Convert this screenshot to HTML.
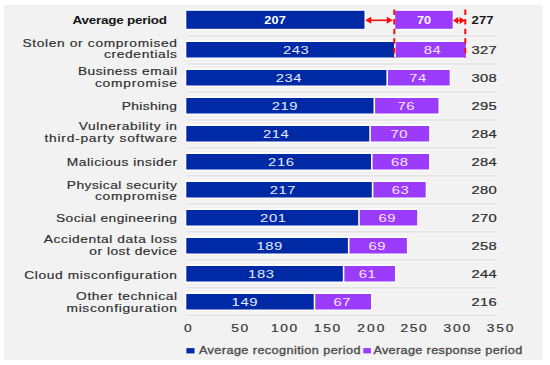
<!DOCTYPE html><html><head><meta charset="utf-8"><style>html,body{margin:0;padding:0;background:#fff;overflow:hidden}svg{display:block}text{font-family:"Liberation Sans",sans-serif}</style></head><body>
<svg width="550" height="365" viewBox="0 0 550 365">
<rect x="0" y="0" width="550" height="365" fill="#ffffff"/>
<rect x="4" y="5" width="539" height="355" fill="#f2f2f2"/>
<rect x="188" y="34.4" width="308" height="3.2" fill="#f8f8f8"/>
<rect x="188" y="35.4" width="308" height="1.2" fill="#dcdcdc"/>
<rect x="188" y="62.4" width="308" height="3.2" fill="#f8f8f8"/>
<rect x="188" y="63.4" width="308" height="1.2" fill="#dcdcdc"/>
<rect x="188" y="90.4" width="308" height="3.2" fill="#f8f8f8"/>
<rect x="188" y="91.4" width="308" height="1.2" fill="#dcdcdc"/>
<rect x="188" y="118.4" width="308" height="3.2" fill="#f8f8f8"/>
<rect x="188" y="119.4" width="308" height="1.2" fill="#dcdcdc"/>
<rect x="188" y="146.3" width="308" height="3.2" fill="#f8f8f8"/>
<rect x="188" y="147.3" width="308" height="1.2" fill="#dcdcdc"/>
<rect x="188" y="174.3" width="308" height="3.2" fill="#f8f8f8"/>
<rect x="188" y="175.3" width="308" height="1.2" fill="#dcdcdc"/>
<rect x="188" y="202.3" width="308" height="3.2" fill="#f8f8f8"/>
<rect x="188" y="203.3" width="308" height="1.2" fill="#dcdcdc"/>
<rect x="188" y="230.3" width="308" height="3.2" fill="#f8f8f8"/>
<rect x="188" y="231.3" width="308" height="1.2" fill="#dcdcdc"/>
<rect x="188" y="258.3" width="308" height="3.2" fill="#f8f8f8"/>
<rect x="188" y="259.3" width="308" height="1.2" fill="#dcdcdc"/>
<rect x="188" y="286.3" width="308" height="3.2" fill="#f8f8f8"/>
<rect x="188" y="287.3" width="308" height="1.2" fill="#dcdcdc"/>
<rect x="188" y="313.8" width="308" height="3.2" fill="#f8f8f8"/>
<rect x="188" y="314.8" width="308" height="1.2" fill="#dcdcdc"/>
<rect x="184.8" y="9.2" width="181.2" height="21.2" fill="#ffffff"/>
<rect x="186.3" y="10.8" width="178.2" height="18.0" fill="#0029a6"/>
<rect x="393.7" y="9.2" width="60.5" height="21.2" fill="#ffffff"/>
<rect x="395.2" y="10.8" width="57.5" height="18.0" fill="#9b3cfc"/>
<rect x="184.8" y="40.4" width="282.6" height="18.7" fill="#ffffff"/>
<rect x="186.3" y="42.0" width="279.6" height="15.5" fill="#ffffff"/>
<rect x="186.3" y="42.0" width="207.8" height="15.5" fill="#0029a6"/>
<rect x="395.7" y="42.0" width="70.2" height="15.5" fill="#9b3cfc"/>
<rect x="184.8" y="68.4" width="266.3" height="18.7" fill="#ffffff"/>
<rect x="186.3" y="70.0" width="263.3" height="15.5" fill="#ffffff"/>
<rect x="186.3" y="70.0" width="200.1" height="15.5" fill="#0029a6"/>
<rect x="388.0" y="70.0" width="61.7" height="15.5" fill="#9b3cfc"/>
<rect x="184.8" y="96.4" width="255.2" height="18.7" fill="#ffffff"/>
<rect x="186.3" y="98.0" width="252.2" height="15.5" fill="#ffffff"/>
<rect x="186.3" y="98.0" width="187.2" height="15.5" fill="#0029a6"/>
<rect x="375.1" y="98.0" width="63.4" height="15.5" fill="#9b3cfc"/>
<rect x="184.8" y="124.4" width="245.8" height="18.7" fill="#ffffff"/>
<rect x="186.3" y="126.0" width="242.8" height="15.5" fill="#ffffff"/>
<rect x="186.3" y="126.0" width="183.0" height="15.5" fill="#0029a6"/>
<rect x="370.9" y="126.0" width="58.3" height="15.5" fill="#9b3cfc"/>
<rect x="184.8" y="152.4" width="245.8" height="18.7" fill="#ffffff"/>
<rect x="186.3" y="154.0" width="242.8" height="15.5" fill="#ffffff"/>
<rect x="186.3" y="154.0" width="184.7" height="15.5" fill="#0029a6"/>
<rect x="372.6" y="154.0" width="56.5" height="15.5" fill="#9b3cfc"/>
<rect x="184.8" y="180.4" width="242.4" height="18.7" fill="#ffffff"/>
<rect x="186.3" y="182.0" width="239.4" height="15.5" fill="#ffffff"/>
<rect x="186.3" y="182.0" width="185.5" height="15.5" fill="#0029a6"/>
<rect x="373.4" y="182.0" width="52.3" height="15.5" fill="#9b3cfc"/>
<rect x="184.8" y="208.4" width="233.8" height="18.7" fill="#ffffff"/>
<rect x="186.3" y="210.0" width="230.8" height="15.5" fill="#ffffff"/>
<rect x="186.3" y="210.0" width="171.9" height="15.5" fill="#0029a6"/>
<rect x="359.8" y="210.0" width="57.4" height="15.5" fill="#9b3cfc"/>
<rect x="184.8" y="236.4" width="223.6" height="18.7" fill="#ffffff"/>
<rect x="186.3" y="238.0" width="220.6" height="15.5" fill="#ffffff"/>
<rect x="186.3" y="238.0" width="161.6" height="15.5" fill="#0029a6"/>
<rect x="349.5" y="238.0" width="57.4" height="15.5" fill="#9b3cfc"/>
<rect x="184.8" y="264.4" width="211.6" height="18.7" fill="#ffffff"/>
<rect x="186.3" y="266.0" width="208.6" height="15.5" fill="#ffffff"/>
<rect x="186.3" y="266.0" width="156.5" height="15.5" fill="#0029a6"/>
<rect x="344.4" y="266.0" width="50.6" height="15.5" fill="#9b3cfc"/>
<rect x="184.8" y="292.4" width="187.7" height="18.7" fill="#ffffff"/>
<rect x="186.3" y="294.0" width="184.7" height="15.5" fill="#ffffff"/>
<rect x="186.3" y="294.0" width="127.4" height="15.5" fill="#0029a6"/>
<rect x="315.3" y="294.0" width="55.7" height="15.5" fill="#9b3cfc"/>
<line x1="394.3" y1="9.5" x2="394.3" y2="58" stroke="#fa0a0a" stroke-width="2" stroke-dasharray="5.5 4.1"/>
<line x1="465.3" y1="9.5" x2="465.3" y2="58" stroke="#fa0a0a" stroke-width="2" stroke-dasharray="5.5 4.1"/>
<line x1="369" y1="20.3" x2="388.5" y2="20.3" stroke="#fa0a0a" stroke-width="1.6"/>
<path d="M365.2 20.3 L371.2 16.8 L371.2 23.8 Z" fill="#fa0a0a"/>
<path d="M392.8 20.3 L386.8 16.8 L386.8 23.8 Z" fill="#fa0a0a"/>
<line x1="456" y1="20.4" x2="462" y2="20.4" stroke="#fa0a0a" stroke-width="1.6"/>
<path d="M452.9 20.4 L458.2 16.9 L458.2 23.9 Z" fill="#fa0a0a"/>
<path d="M465.0 20.4 L459.7 16.9 L459.7 23.9 Z" fill="#fa0a0a"/>
<text transform="translate(72.40,23.80) scale(1.15,1)" font-size="11.7" font-weight="bold" fill="#161616" textLength="82.17" lengthAdjust="spacing">Average period</text>
<text transform="translate(22.40,46.50) scale(1.35,1)" font-size="10.2" fill="#2e2e2e" stroke="#2e2e2e" stroke-width="0.15" textLength="114.52" lengthAdjust="spacing">Stolen or compromised</text>
<text transform="translate(104.00,57.70) scale(1.35,1)" font-size="10.2" fill="#2e2e2e" stroke="#2e2e2e" stroke-width="0.15" textLength="54.07" lengthAdjust="spacing">credentials</text>
<text transform="translate(77.90,75.20) scale(1.35,1)" font-size="10.2" fill="#2e2e2e" stroke="#2e2e2e" stroke-width="0.15" textLength="73.41" lengthAdjust="spacing">Business email</text>
<text transform="translate(94.90,86.80) scale(1.35,1)" font-size="10.2" fill="#2e2e2e" stroke="#2e2e2e" stroke-width="0.15" textLength="60.81" lengthAdjust="spacing">compromise</text>
<text transform="translate(121.80,109.50) scale(1.35,1)" font-size="10.2" fill="#2e2e2e" stroke="#2e2e2e" stroke-width="0.15" textLength="40.89" lengthAdjust="spacing">Phishing</text>
<text transform="translate(78.70,130.30) scale(1.35,1)" font-size="10.2" fill="#2e2e2e" stroke="#2e2e2e" stroke-width="0.15" textLength="72.81" lengthAdjust="spacing">Vulnerability in</text>
<text transform="translate(44.40,141.70) scale(1.35,1)" font-size="10.2" fill="#2e2e2e" stroke="#2e2e2e" stroke-width="0.15" textLength="98.22" lengthAdjust="spacing">third-party software</text>
<text transform="translate(66.80,165.70) scale(1.35,1)" font-size="10.2" fill="#2e2e2e" stroke="#2e2e2e" stroke-width="0.15" textLength="81.63" lengthAdjust="spacing">Malicious insider</text>
<text transform="translate(66.80,188.60) scale(1.35,1)" font-size="10.2" fill="#2e2e2e" stroke="#2e2e2e" stroke-width="0.15" textLength="81.63" lengthAdjust="spacing">Physical security</text>
<text transform="translate(94.90,199.80) scale(1.35,1)" font-size="10.2" fill="#2e2e2e" stroke="#2e2e2e" stroke-width="0.15" textLength="60.81" lengthAdjust="spacing">compromise</text>
<text transform="translate(56.00,221.70) scale(1.35,1)" font-size="10.2" fill="#2e2e2e" stroke="#2e2e2e" stroke-width="0.15" textLength="89.63" lengthAdjust="spacing">Social engineering</text>
<text transform="translate(43.80,243.10) scale(1.35,1)" font-size="10.2" fill="#2e2e2e" stroke="#2e2e2e" stroke-width="0.15" textLength="98.67" lengthAdjust="spacing">Accidental data loss</text>
<text transform="translate(89.30,254.90) scale(1.35,1)" font-size="10.2" fill="#2e2e2e" stroke="#2e2e2e" stroke-width="0.15" textLength="64.96" lengthAdjust="spacing">or lost device</text>
<text transform="translate(24.30,278.60) scale(1.35,1)" font-size="10.2" fill="#2e2e2e" stroke="#2e2e2e" stroke-width="0.15" textLength="113.11" lengthAdjust="spacing">Cloud misconfiguration</text>
<text transform="translate(76.10,299.50) scale(1.35,1)" font-size="10.2" fill="#2e2e2e" stroke="#2e2e2e" stroke-width="0.15" textLength="74.74" lengthAdjust="spacing">Other technical</text>
<text transform="translate(66.50,311.50) scale(1.35,1)" font-size="10.2" fill="#2e2e2e" stroke="#2e2e2e" stroke-width="0.15" textLength="81.85" lengthAdjust="spacing">misconfiguration</text>
<text transform="translate(264.30,23.50) scale(1.15,1)" font-size="11.0" font-weight="bold" fill="#ffffff" textLength="18.78" lengthAdjust="spacing">207</text>
<text transform="translate(416.90,23.50) scale(1.15,1)" font-size="11.0" font-weight="bold" fill="#ffffff" textLength="12.35" lengthAdjust="spacing">70</text>
<text transform="translate(471.60,23.80) scale(1.15,1)" font-size="11.4" font-weight="bold" fill="#161616" textLength="19.13" lengthAdjust="spacing">277</text>
<text transform="translate(282.90,53.50) scale(1.45,1)" font-size="10.2" fill="#e6ecff" textLength="17.79" lengthAdjust="spacing">243</text>
<text transform="translate(423.80,53.50) scale(1.45,1)" font-size="10.2" fill="#f8e8ff" textLength="11.72" lengthAdjust="spacing">84</text>
<text transform="translate(471.40,53.60) scale(1.42,1)" font-size="10.4" fill="#2e2e2e" stroke="#2e2e2e" stroke-width="0.2" textLength="17.89" lengthAdjust="spacing">327</text>
<text transform="translate(275.70,81.50) scale(1.45,1)" font-size="10.2" fill="#e6ecff" textLength="17.79" lengthAdjust="spacing">234</text>
<text transform="translate(409.20,81.50) scale(1.45,1)" font-size="10.2" fill="#f8e8ff" textLength="11.72" lengthAdjust="spacing">74</text>
<text transform="translate(471.40,81.60) scale(1.42,1)" font-size="10.4" fill="#2e2e2e" stroke="#2e2e2e" stroke-width="0.2" textLength="17.89" lengthAdjust="spacing">308</text>
<text transform="translate(271.70,109.50) scale(1.45,1)" font-size="10.2" fill="#e6ecff" textLength="17.79" lengthAdjust="spacing">219</text>
<text transform="translate(397.40,109.50) scale(1.45,1)" font-size="10.2" fill="#f8e8ff" textLength="11.72" lengthAdjust="spacing">76</text>
<text transform="translate(471.40,109.60) scale(1.42,1)" font-size="10.4" fill="#2e2e2e" stroke="#2e2e2e" stroke-width="0.2" textLength="17.89" lengthAdjust="spacing">295</text>
<text transform="translate(262.90,137.50) scale(1.45,1)" font-size="10.2" fill="#e6ecff" textLength="17.79" lengthAdjust="spacing">214</text>
<text transform="translate(390.40,137.50) scale(1.45,1)" font-size="10.2" fill="#f8e8ff" textLength="11.72" lengthAdjust="spacing">70</text>
<text transform="translate(471.40,137.60) scale(1.42,1)" font-size="10.4" fill="#2e2e2e" stroke="#2e2e2e" stroke-width="0.2" textLength="17.89" lengthAdjust="spacing">284</text>
<text transform="translate(268.10,165.50) scale(1.45,1)" font-size="10.2" fill="#e6ecff" textLength="17.79" lengthAdjust="spacing">216</text>
<text transform="translate(390.90,165.50) scale(1.45,1)" font-size="10.2" fill="#f8e8ff" textLength="11.72" lengthAdjust="spacing">68</text>
<text transform="translate(471.40,165.60) scale(1.42,1)" font-size="10.4" fill="#2e2e2e" stroke="#2e2e2e" stroke-width="0.2" textLength="17.89" lengthAdjust="spacing">284</text>
<text transform="translate(269.80,193.50) scale(1.45,1)" font-size="10.2" fill="#e6ecff" textLength="17.79" lengthAdjust="spacing">217</text>
<text transform="translate(391.70,193.50) scale(1.45,1)" font-size="10.2" fill="#f8e8ff" textLength="11.72" lengthAdjust="spacing">63</text>
<text transform="translate(471.40,193.60) scale(1.42,1)" font-size="10.4" fill="#2e2e2e" stroke="#2e2e2e" stroke-width="0.2" textLength="17.89" lengthAdjust="spacing">280</text>
<text transform="translate(260.10,221.50) scale(1.45,1)" font-size="10.2" fill="#e6ecff" textLength="17.79" lengthAdjust="spacing">201</text>
<text transform="translate(378.40,221.50) scale(1.45,1)" font-size="10.2" fill="#f8e8ff" textLength="11.72" lengthAdjust="spacing">69</text>
<text transform="translate(471.40,221.60) scale(1.42,1)" font-size="10.4" fill="#2e2e2e" stroke="#2e2e2e" stroke-width="0.2" textLength="17.89" lengthAdjust="spacing">270</text>
<text transform="translate(256.50,249.50) scale(1.45,1)" font-size="10.2" fill="#e6ecff" textLength="17.79" lengthAdjust="spacing">189</text>
<text transform="translate(368.50,249.50) scale(1.45,1)" font-size="10.2" fill="#f8e8ff" textLength="11.72" lengthAdjust="spacing">69</text>
<text transform="translate(471.40,249.60) scale(1.42,1)" font-size="10.4" fill="#2e2e2e" stroke="#2e2e2e" stroke-width="0.2" textLength="17.89" lengthAdjust="spacing">258</text>
<text transform="translate(248.10,277.50) scale(1.45,1)" font-size="10.2" fill="#e6ecff" textLength="17.79" lengthAdjust="spacing">183</text>
<text transform="translate(358.80,277.50) scale(1.45,1)" font-size="10.2" fill="#f8e8ff" textLength="11.72" lengthAdjust="spacing">61</text>
<text transform="translate(471.40,277.60) scale(1.42,1)" font-size="10.4" fill="#2e2e2e" stroke="#2e2e2e" stroke-width="0.2" textLength="17.89" lengthAdjust="spacing">244</text>
<text transform="translate(231.60,305.50) scale(1.45,1)" font-size="10.2" fill="#e6ecff" textLength="17.79" lengthAdjust="spacing">149</text>
<text transform="translate(333.40,305.50) scale(1.45,1)" font-size="10.2" fill="#f8e8ff" textLength="11.72" lengthAdjust="spacing">67</text>
<text transform="translate(471.40,305.60) scale(1.42,1)" font-size="10.4" fill="#2e2e2e" stroke="#2e2e2e" stroke-width="0.2" textLength="17.89" lengthAdjust="spacing">216</text>
<text transform="translate(184.00,332.20) scale(1.3,1)" font-size="10.6" fill="#383838" stroke="#383838" stroke-width="0.18" textLength="6.46" lengthAdjust="spacing">0</text>
<text transform="translate(231.30,332.20) scale(1.3,1)" font-size="10.6" fill="#383838" stroke="#383838" stroke-width="0.18" textLength="13.08" lengthAdjust="spacing">50</text>
<text transform="translate(270.90,332.20) scale(1.3,1)" font-size="10.6" fill="#383838" stroke="#383838" stroke-width="0.18" textLength="20.23" lengthAdjust="spacing">100</text>
<text transform="translate(313.70,332.20) scale(1.3,1)" font-size="10.6" fill="#383838" stroke="#383838" stroke-width="0.18" textLength="20.46" lengthAdjust="spacing">150</text>
<text transform="translate(357.30,332.20) scale(1.3,1)" font-size="10.6" fill="#383838" stroke="#383838" stroke-width="0.18" textLength="20.92" lengthAdjust="spacing">200</text>
<text transform="translate(400.60,332.20) scale(1.3,1)" font-size="10.6" fill="#383838" stroke="#383838" stroke-width="0.18" textLength="20.15" lengthAdjust="spacing">250</text>
<text transform="translate(443.40,332.20) scale(1.3,1)" font-size="10.6" fill="#383838" stroke="#383838" stroke-width="0.18" textLength="20.69" lengthAdjust="spacing">300</text>
<text transform="translate(486.80,332.20) scale(1.3,1)" font-size="10.6" fill="#383838" stroke="#383838" stroke-width="0.18" textLength="20.54" lengthAdjust="spacing">350</text>
<rect x="186.4" y="348.1" width="8.1" height="5.3" fill="#0029a6"/>
<text transform="translate(199.00,353.80) scale(1.15,1)" font-size="11" fill="#4d4d4d" stroke="#4d4d4d" stroke-width="0.35" textLength="140.43" lengthAdjust="spacing">Average recognition period</text>
<rect x="363.3" y="348.1" width="7.6" height="5.3" fill="#9b3cfc"/>
<text transform="translate(373.40,353.80) scale(1.15,1)" font-size="11" fill="#4d4d4d" stroke="#4d4d4d" stroke-width="0.35" textLength="129.39" lengthAdjust="spacing">Average response period</text>
</svg></body></html>
